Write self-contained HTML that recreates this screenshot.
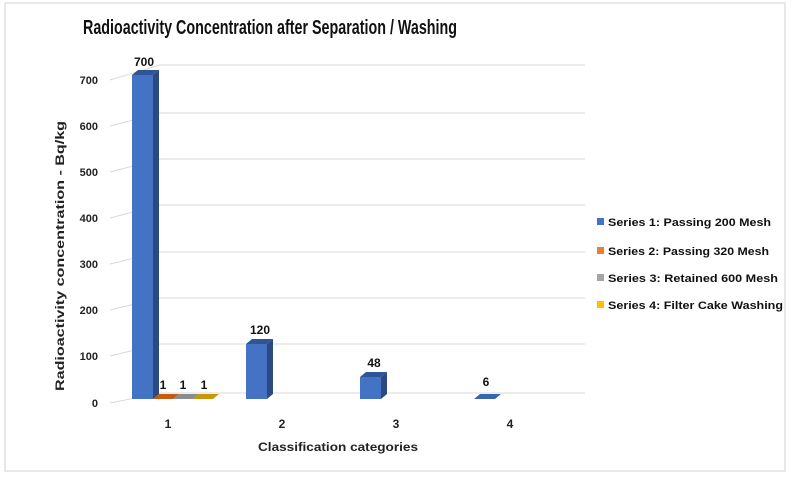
<!DOCTYPE html>
<html><head><meta charset="utf-8"><style>
body{margin:0;background:#fff;}
svg{display:block;font-family:"Liberation Sans",sans-serif;}
</style></head><body>
<svg width="800" height="483" viewBox="0 0 800 483" xmlns="http://www.w3.org/2000/svg">
<rect x="5" y="3" width="780" height="468" fill="#fff" stroke="#d0d0d0" stroke-width="1"/>
<text x="83" y="34" font-size="20" font-weight="bold" textLength="374" lengthAdjust="spacingAndGlyphs" fill="#111">Radioactivity Concentration after Separation / Washing</text>
<g stroke="#d9d9d9" stroke-width="1" fill="none">
<path d="M110,403 L160,393 H585"/>
<path d="M110,356 L160,344 H585"/>
<path d="M110,310 L160,298 H585"/>
<path d="M110,264 L160,252 H585"/>
<path d="M110,218 L160,205 H585"/>
<path d="M110,172 L160,159 H585"/>
<path d="M110,126 L160,113 H585"/>
<path d="M110,80 L160,65 H585"/>
</g>
<g font-size="11" font-weight="bold" fill="#222" text-anchor="end">
<text x="98" y="407">0</text><text x="98" y="360">100</text><text x="98" y="314">200</text><text x="98" y="268">300</text><text x="98" y="222">400</text><text x="98" y="176">500</text><text x="98" y="130">600</text><text x="98" y="84">700</text>
</g>
<text transform="translate(64,256) rotate(-90)" font-size="12" font-weight="bold" text-anchor="middle" textLength="270" lengthAdjust="spacingAndGlyphs" fill="#222">Radioactivity concentration - Bq/kg</text>
<path d="M153,399 L159,394 H179 L173,399Z" fill="#c55a11"/>
<path d="M173,399 L179,394 H199 L193,399Z" fill="#8c8c8c"/>
<path d="M193,399 L199,394 H219 L213,399Z" fill="#c7960a"/>
<g>
<path d="M132,75 L138,70 H159 L153,75Z" fill="#2f5597"/><path d="M153,75 L159,70 V394 L153,399Z" fill="#2a4a80"/><rect x="132" y="75" width="21" height="324" fill="#4472c4"/>
<path d="M246,344 L252,339 H273 L267,344Z" fill="#2f5597"/><path d="M267,344 L273,339 V394 L267,399Z" fill="#2a4a80"/><rect x="246" y="344" width="21" height="55" fill="#4472c4"/>
<path d="M360,377 L366,372 H387 L381,377Z" fill="#2f5597"/><path d="M381,377 L387,372 V394 L381,399Z" fill="#2a4a80"/><rect x="360" y="377" width="21" height="22" fill="#4472c4"/>
<path d="M474,399 L480,394 H501 L495,399Z" fill="#3a64b0"/>
</g>
<g font-size="12" font-weight="bold" fill="#111" text-anchor="middle">
<text x="144" y="66">700</text><text x="260" y="334">120</text><text x="374" y="367">48</text><text x="486" y="386">6</text>
<text x="163" y="389">1</text><text x="183" y="389">1</text><text x="204" y="389">1</text>
</g>
<g font-size="12" font-weight="bold" fill="#222" text-anchor="middle">
<text x="168" y="428">1</text><text x="282" y="428">2</text><text x="396" y="428">3</text><text x="510" y="428">4</text>
</g>
<text x="338" y="451" font-size="12" font-weight="bold" text-anchor="middle" textLength="160" lengthAdjust="spacingAndGlyphs" fill="#222">Classification categories</text>
<g font-size="11" font-weight="bold" fill="#111">
<rect x="597" y="218" width="7" height="7" fill="#4472c4"/><text x="608" y="226" textLength="163" lengthAdjust="spacingAndGlyphs">Series 1: Passing 200 Mesh</text>
<rect x="597" y="247" width="7" height="7" fill="#ed7d31"/><text x="608" y="255" textLength="161" lengthAdjust="spacingAndGlyphs">Series 2: Passing 320 Mesh</text>
<rect x="597" y="274" width="7" height="7" fill="#a5a5a5"/><text x="608" y="282" textLength="170" lengthAdjust="spacingAndGlyphs">Series 3: Retained 600 Mesh</text>
<rect x="597" y="301" width="7" height="7" fill="#ffc000"/><text x="608" y="309" textLength="175" lengthAdjust="spacingAndGlyphs">Series 4: Filter Cake Washing</text>
</g>
</svg>
</body></html>
